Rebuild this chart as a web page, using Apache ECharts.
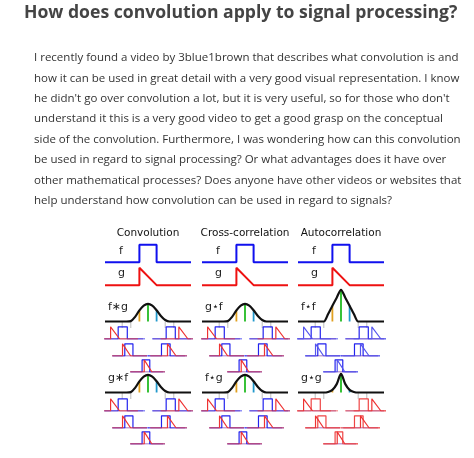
<!DOCTYPE html><html><head><meta charset="utf-8">
<script src="https://cdn.jsdelivr.net/npm/echarts@6/dist/echarts.min.js"></script>
<style>html,body{margin:0;padding:0;background:#fff}#c{width:474px;height:458px}</style></head><body><div id="c"></div><script>
const titleText='How does convolution apply to signal processing?';
const paragraph=['I recently found a video by 3blue1brown that describes what convolution is and','how it can be used in great detail with a very good visual representation. I know','he didn\'t go over convolution a lot, but it is very useful, so for those who don\'t','understand it this is a very good video to get a good grasp on the conceptual','side of the convolution. Furthermore, I was wondering how can this convolution','be used in regard to signal processing? Or what advantages does it have over','other mathematical processes? Does anyone have other videos or websites that','help understand how convolution can be used in regard to signals?'];
const panelTitles=['Convolution','Cross-correlation','Autocorrelation'];
const resultLabels1=['f∗g','g⋆f','f⋆f'];
const resultLabels2=['g∗f','f⋆g','g⋆g'];
const fX=[-3,-0.6,-0.6,0.6,0.6,3], fY=[0,0,1,1,0,0];
const gX=[-3,-0.6,-0.6,0.6,3], gY=[0,0,1,0,0];
const xs=[-3,-2.4,-1.8,-1.5,-1.2,-0.9,-0.6,-0.3,0,0.3,0.6,0.9,1.2,1.5,1.8,2.4,3];
const convY=[0,0,0,0,0.02,0.25,0.6,0.85,0.95,0.85,0.6,0.3,0.08,0,0,0,0];
const autoY=[0,0,0,0,0,0.4,0.85,1.28,1.7,1.28,0.85,0.4,0,0,0,0,0];
const ggY=[0,0,0,0,0,0.03,0.14,0.45,1.0,0.45,0.14,0.03,0,0,0,0,0];
const arrowX=[-0.6,0,0.6];
const arrowColors=['#e0a020','#22bb22','#2299cc'];
const cols=[105,202,298];
const ch=echarts.init(document.getElementById('c'));
const grids=[],xA=[],yA=[],series=[],graphic=[];
function plot(l,t,w,h,xmin,xmax,ymin,ymax,lines){
  const i=grids.length;
  grids.push({left:l,top:t,width:w,height:h});
  xA.push({gridIndex:i,type:'value',min:xmin,max:xmax,show:false});
  yA.push({gridIndex:i,type:'value',min:ymin,max:ymax,show:false});
  lines.forEach(s=>series.push({type:'line',xAxisIndex:i,yAxisIndex:i,data:s.x.map((v,k)=>[v,s.y[k]]),showSymbol:false,silent:true,smooth:s.smooth||false,lineStyle:{color:s.c,width:s.w||1.6},z:s.z||2}));
}
graphic.push({type:'text',left:24,top:4,style:{text:titleText,font:'bold 17.6px "Open Sans"',fill:'#444'}});
paragraph.forEach((p,i)=>graphic.push({type:'text',left:34,top:52+i*20.4,style:{text:p,font:'11.5px "Open Sans"',fill:'#333'}}));
function smallRow(c,top,h,pairs,colF,colG){
  pairs.forEach(([off,w,shift])=>{
    plot(c+off,top,w,h,-1.5,1.5,0,1.15,[
      {x:[-1.5,1.5],y:[0,0],c:'#8844aa',w:1.2},
      {x:fX.map(v=>v*0.6-0.1),y:fY,c:colF,w:1.2},
      {x:gX.map(v=>v*0.6+shift),y:gY,c:colG,w:1.2}
    ]);
  });
}
cols.forEach((c,ci)=>{
  graphic.push({type:'text',x:c+43,y:228,style:{text:panelTitles[ci],font:'10.5px "DejaVu Sans"',fill:'#111',align:'center'}});
  graphic.push({type:'text',x:c+14,y:246,style:{text:'f',font:'11px "DejaVu Sans"',fill:'#222'}});
  graphic.push({type:'text',x:c+13,y:268,style:{text:'g',font:'11px "DejaVu Sans"',fill:'#222'}});
  graphic.push({type:'text',x:c+3,y:302,style:{text:resultLabels1[ci],font:'11px "DejaVu Sans"',fill:'#222'}});
  graphic.push({type:'text',x:c+3,y:373,style:{text:resultLabels2[ci],font:'11px "DejaVu Sans"',fill:'#222'}});
  plot(c,243,86,20,-3,3,-0.05,1.1,[{x:fX,y:fY,c:'#1010ee',w:2}]);
  plot(c,266,86,20,-3,3,-0.05,1.1,[{x:gX,y:gY,c:'#ee1111',w:2}]);
  const r1=ci===2?autoY:convY, r2=ci===2?ggY:convY;
  [[288,r1],[359,r2]].forEach(([top,yy])=>{
    const lines=[{x:xs,y:yy,c:'#111',w:2.2,smooth:0.3,z:5}];
    arrowX.forEach((ax,k)=>{const yv=yy[xs.indexOf(ax)];lines.push({x:[ax,ax],y:[0,yv],c:arrowColors[k],w:1.8,z:4});});
    [-1.8,-1.2,1.2,1.8].forEach(ax=>lines.push({x:[ax,ax],y:[-0.35,0],c:'#bbbbbb',w:1,z:1}));
    plot(c,top,86,40,-3,3,-0.35,1.8,lines);
  });
  const rowSets=[[325,[[0,38,-0.7],[48,38,0.9]]],[342,[[8,34,-0.3],[44,36,0.4]]],[358,[[26,32,0.1]]]];
  rowSets.forEach(([t,p])=>smallRow(c,t,14,p,'#2222ee',ci===2?'#5555ee':'#ee3333'));
  rowSets.forEach(([t,p])=>smallRow(c,t+72,14,p,ci===2?'#ee4444':'#2222ee','#ee3333'));
});
ch.setOption({animation:false,grid:grids,xAxis:xA,yAxis:yA,series:series,graphic:graphic});
</script></body></html>
